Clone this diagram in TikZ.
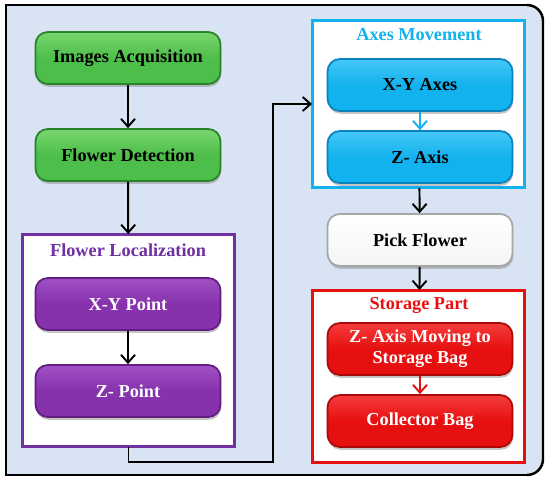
\documentclass[tikz,border=0pt]{standalone}
\usepackage{fontspec}
\setmainfont{Liberation Serif}
\usepackage{tikz}
\usetikzlibrary{arrows.meta,positioning,calc,shadows}
\definecolor{bgblue}{RGB}{216,228,243}
\definecolor{grn}{RGB}{78,190,74}
\definecolor{grnlt}{RGB}{120,214,110}
\definecolor{grndk}{RGB}{40,130,40}
\definecolor{pur}{RGB}{134,50,172}
\definecolor{purlt}{RGB}{160,80,196}
\definecolor{purdk}{RGB}{96,30,128}
\definecolor{purtxt}{RGB}{112,48,160}
\definecolor{cya}{RGB}{18,178,238}
\definecolor{cyalt}{RGB}{70,200,248}
\definecolor{cyadk}{RGB}{10,130,190}
\definecolor{rd}{RGB}{230,16,16}
\definecolor{rdlt}{RGB}{246,60,60}
\definecolor{rddk}{RGB}{170,10,10}

\tikzset{
  box/.style={rounded corners=7pt, minimum width=3.7cm, minimum height=1.04cm,
    line width=1pt, align=center, font=\bfseries, inner sep=1pt,
    drop shadow={shadow xshift=0.4pt, shadow yshift=-1.6pt, opacity=0.45}},
  greenbox/.style={box, draw=grndk, top color=grnlt, bottom color=grn, middle color=grn},
  purplebox/.style={box, draw=purdk, top color=purlt, bottom color=pur, middle color=pur, text=white},
  cyanbox/.style={box, draw=cyadk, top color=cyalt, bottom color=cya, middle color=cya},
  redbox/.style={box, draw=rddk, top color=rdlt, bottom color=rd, middle color=rd, text=white},
  whitebox/.style={box, draw=gray!70, top color=white, bottom color=gray!8},
  frame/.style={draw, fill=white, line width=1.7pt, inner sep=0pt, outer sep=0pt, minimum width=4.26cm},
  title/.style={font=\bfseries},
  flow/.style={line width=1.1pt, -{Straight Barb[length=4.5pt,width=8pt,line width=1.1pt]}},
}

\begin{document}
\fontsize{10.4}{12}\selectfont
\begin{tikzpicture}[x=0.02cm, y=-0.02cm]
    \useasboundingbox (0,0) rectangle (550,479);
    % outer panel
    \fill [bgblue] (6,5) rectangle (535,475);
    \fill [bgblue] (527,5) arc [start angle=90, end angle=0, radius=0.32cm] -- (543,459)
        arc [start angle=0, end angle=-90, radius=0.32cm] -- cycle;
    \draw [line width=1.4pt, line join=miter] (527,475) -- (6,475) -- (6,5) -- (527,5);
    \draw [line width=1.4pt] (527,5) arc [start angle=90, end angle=0, radius=0.32cm] -- (543,459)
        arc [start angle=0, end angle=-90, radius=0.32cm];

    % frames
    \node [frame, draw=purtxt, minimum height=4.26cm] (loc) at (128.5,340.5) {};
    \node [frame, draw=cya, minimum height=3.36cm] (axes) at (418.5,104) {};
    \node [frame, draw=rd, minimum height=3.46cm] (store) at (418.5,376.5) {};

    \node [title, text=purtxt] (loctitle) at (128,250) {Flower Localization};
    \node [title, text=cya] (axestitle) at (419,35) {Axes Movement};
    \node [title, text=rd] (storetitle) at (419,305) {Storage Part};

    % boxes
    \node [greenbox] (acq) at (128,58) {Images Acquisition};
    \node [greenbox] (det) at (128,155) {Flower Detection};
    \node [purplebox] (xyp) at (128,304) {X-Y Point};
    \node [purplebox] (zp) at (128,391) {Z- Point};
    \node [cyanbox] (xya) at (420,85) {X-Y Axes};
    \node [cyanbox] (za) at (420,157) {Z- Axis};
    \node [whitebox] (pick) at (420,240) {Pick Flower};
    \node [redbox] (zmove) at (420,349) {Z- Axis Moving to\\Storage Bag};
    \node [redbox] (bag) at (420,421) {Collector Bag};

    \coordinate (turn1) at (273,462);
    \coordinate (turn2) at (273,104);

    % connectors
    \draw [flow] (acq) -- (det);
    \draw [flow] (det) -- (loc);
    \draw [flow] (xyp) -- (zp);
    \draw [flow, cya] (xya) -- (za);
    \draw [flow] (axes) -- (pick);
    \draw [flow] (pick) -- (store);
    \draw [flow, rd] (zmove) -- (bag);
    \draw [flow] (loc.south) |- (turn1) -- (turn2) -- (axes.west);
\end{tikzpicture}
\end{document}
